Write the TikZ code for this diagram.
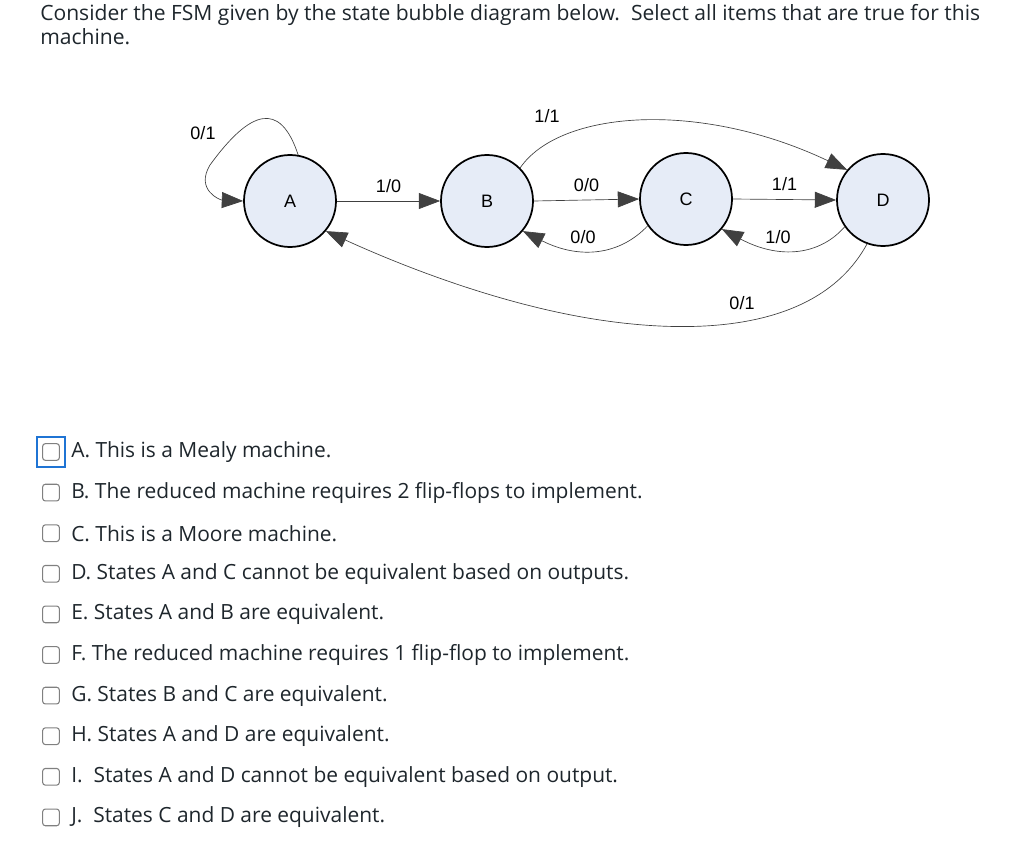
\documentclass[tikz,border=0pt]{standalone}
\usepackage{fontspec}
\setmainfont{Open Sans}
\newfontfamily\arialf{Liberation Sans}
\usetikzlibrary{arrows.meta}
\definecolor{bub}{HTML}{E6ECF7}
\definecolor{txt}{HTML}{1E262C}
\definecolor{sel}{HTML}{1F74D4}
\begin{document}
\begin{tikzpicture}[x=0.75pt,y=-0.75pt,
  st/.style={circle,draw,line width=1.3pt,fill=bub,minimum size=69pt,inner sep=0pt,font=\arialf\fontsize{13.5}{15}\selectfont},
  lab/.style={font=\arialf\fontsize{13.5}{15}\selectfont},
  ed/.style={draw=black!75,line width=0.5pt,-{Triangle[length=16pt,width=12pt]}},
  opt/.style={anchor=west,text=txt,font=\fontsize{15.7}{18}\selectfont,inner sep=0pt},
  cb/.style={draw=black!50,line width=0.8pt,rounded corners=2pt,minimum size=12.5pt,inner sep=0pt}]
\useasboundingbox (0,0) rectangle (1024,845);
\node[anchor=north west,align=left,text=txt,font=\fontsize{15.8}{18}\selectfont,inner sep=0pt] (hd) at (40,4)
 {Consider the FSM given by the state bubble diagram below.\ \ Select all items that are true for this\\machine.};
\node[st] (A) at (290,201) {A};
\node[st] (B) at (487,201) {B};
\node[st] (C) at (686,199) {C};
\node[st] (D) at (883,200) {D};
\draw[ed] (A.east) -- node[lab,above=3pt]{1/0} (B.west);
\draw[ed] (B.east) -- node[lab,above=3pt]{0/0} (C.west);
\draw[ed] (C.east) -- node[lab,above=3pt]{1/1} (D.west);
\draw[ed] (A.80) .. controls (280,100) and (250,110) .. (210,165) .. controls (195,190) and (220,200) .. (A.west);
\node[lab] (l1) at (203,133) {0/1};
\draw[ed] (C.215) .. controls (620,255) and (580,260) .. (B.-40);
\node[lab] (l2) at (583,237) {0/0};
\draw[ed] (D.215) .. controls (820,255) and (780,260) .. (C.-40);
\node[lab] (l3) at (778,237) {1/0};
\draw[ed] (B.45) .. controls (560,110) and (700,100) .. (D.140);
\node[lab] (l4) at (547,116) {1/1};
\draw[ed] (D.-110) .. controls (820,330) and (700,335) .. (600,320) .. controls (500,305) and (400,265) .. (A.-40);
\node[lab] (l5) at (742,303) {0/1};
\foreach \t [count=\i from 0] in {A. This is a Mealy machine.,
 B. The reduced machine requires 2 flip-flops to implement.,
 C. This is a Moore machine.,
 D. States A and C cannot be equivalent based on outputs.,
 E. States A and B are equivalent.,
 F. The reduced machine requires 1 flip-flop to implement.,
 G. States B and C are equivalent.,
 H. States A and D are equivalent.,
 I.\ \ States A and D cannot be equivalent based on output.,
 J.\ \ States C and D are equivalent.}{
  \node[cb] (c\i) at (51,452+40.6*\i) {};
  \node[opt] (o\i) at (71,452+40.6*\i) {\t};
}
\draw[sel,line width=1.6pt] (37,437) rectangle (65,467);
\end{tikzpicture}
\end{document}
